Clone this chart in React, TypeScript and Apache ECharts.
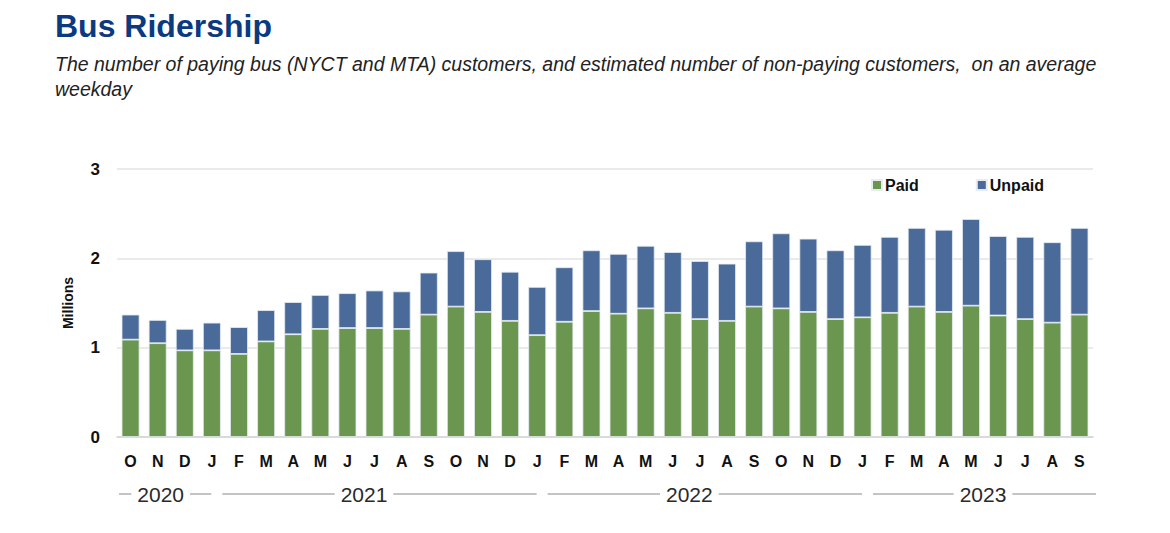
import React, { useEffect, useRef } from "react";
import * as echarts from "echarts";

const months = ["O","N","D","J","F","M","A","M","J","J","A","S","O","N","D","J","F","M","A","M","J","J","A","S","O","N","D","J","F","M","A","M","J","J","A","S"];
const years = ["2020", "2021", "2022", "2023"];
const monthsPerYear = [3, 12, 12, 9];
const paid = [1.09,1.05,0.97,0.97,0.93,1.07,1.15,1.21,1.22,1.22,1.21,1.37,1.46,1.40,1.30,1.14,1.29,1.41,1.38,1.44,1.39,1.32,1.30,1.46,1.44,1.40,1.32,1.34,1.39,1.46,1.40,1.47,1.36,1.32,1.28,1.37];
const unpaid = [0.28,0.26,0.24,0.31,0.30,0.35,0.36,0.38,0.39,0.42,0.42,0.47,0.62,0.59,0.55,0.54,0.61,0.68,0.67,0.70,0.68,0.65,0.64,0.73,0.84,0.82,0.77,0.81,0.85,0.88,0.92,0.97,0.89,0.92,0.90,0.97];
const yTicks = [0, 1, 2, 3];

const GREEN = "#6a9650";
const BLUE = "#4a6a99";
const FONT = "'Liberation Sans', Arial, Helvetica, sans-serif";

export default function App() {
  const ref = useRef<HTMLDivElement>(null);
  useEffect(() => {
    if (!ref.current) return;
    const chart = echarts.init(ref.current, undefined, { renderer: "svg" });
    const grid = { left: 117, right: 77, top: 169, bottom: 96 };
    chart.setOption({
      animation: false,
      textStyle: { fontFamily: FONT },
      title: [
        {
          text: "Bus Ridership",
          left: 55,
          top: 10,
          padding: 0,
          textStyle: { fontSize: 32, fontWeight: "bold", color: "#0b3a80", fontFamily: FONT },
        },
        {
          text: "The number of paying bus (NYCT and MTA) customers, and estimated number of non-paying customers,  on an average\nweekday",
          left: 55,
          top: 51,
          padding: 0,
          textStyle: { fontSize: 19.5, fontStyle: "italic", fontWeight: "normal", color: "#222", lineHeight: 25, fontFamily: FONT },
        },
      ],
      legend: {
        left: 866,
        top: 172,
        itemWidth: 10,
        itemHeight: 10,
        itemGap: 57,
        icon: "rect",
        textStyle: { fontSize: 16, fontWeight: "bold", color: "#111", padding: [0, 0, 0, -2] },
        data: ["Paid", "Unpaid"],
      },
      grid,
      xAxis: {
        type: "category",
        data: months,
        axisLine: { show: true, lineStyle: { color: "#d4d4d4", width: 1.5 } },
        axisTick: { show: false },
        axisLabel: { fontSize: 16, fontWeight: "bold", color: "#111", margin: 16, interval: 0 },
      },
      yAxis: {
        type: "value",
        min: yTicks[0],
        max: yTicks[yTicks.length - 1],
        interval: 1,
        name: "Millions",
        nameLocation: "middle",
        nameRotate: 90,
        nameGap: 42,
        nameTextStyle: { fontSize: 14, fontWeight: "bold", color: "#111" },
        axisLine: { show: false },
        axisTick: { show: false },
        axisLabel: { fontSize: 17, fontWeight: "bold", color: "#111", margin: 17 },
        splitLine: { lineStyle: { color: "#e3e3e3", width: 1.5 } },
      },
      series: [
        {
          name: "Paid",
          type: "bar",
          stack: "total",
          data: paid,
          barCategoryGap: "34%",
          itemStyle: { color: GREEN, borderColor: "#e6ecf2", borderWidth: 0.8 },
        },
        {
          name: "Unpaid",
          type: "bar",
          stack: "total",
          data: unpaid,
          barCategoryGap: "34%",
          itemStyle: { color: BLUE, borderColor: "#e6ecf2", borderWidth: 0.8 },
        },
      ],
    });

    // Year row under the month labels
    const p0 = chart.convertToPixel({ xAxisIndex: 0 }, 0) as number;
    const p1 = chart.convertToPixel({ xAxisIndex: 0 }, 1) as number;
    const cw = p1 - p0;
    const zeroY = chart.convertToPixel({ yAxisIndex: 0 }, 0) as number;
    const rowY = zeroY + 57;
    const rightEdge = 1170 - grid.right + 3;
    const graphics: any[] = [];
    let idx = 0;
    years.forEach((y, i) => {
      const startIdx = idx;
      const endIdx = idx + monthsPerYear[i] - 1;
      idx += monthsPerYear[i];
      const cs = chart.convertToPixel({ xAxisIndex: 0 }, startIdx) as number;
      const ce = chart.convertToPixel({ xAxisIndex: 0 }, endIdx) as number;
      const x0 = cs - cw / 2 + (i === 0 ? 2 : 24);
      const x1 = Math.min(ce + cw / 2 + 13, rightEdge);
      const mid = (cs + ce) / 2 + (i === years.length - 1 ? 12 : 3);
      graphics.push({
        type: "line",
        shape: { x1: x0, y1: rowY, x2: x1, y2: rowY },
        style: { stroke: "#b0b0b0", lineWidth: 1.5 },
        silent: true,
      });
      graphics.push({
        type: "text",
        x: mid,
        y: rowY,
        style: {
          text: y,
          fontSize: 21,
          fontFamily: FONT,
          fill: "#2a2a2a",
          align: "center",
          verticalAlign: "middle",
          backgroundColor: "#fff",
          padding: [0, 6, 0, 6],
        },
        silent: true,
      });
    });
    chart.setOption({ graphic: graphics });

    return () => chart.dispose();
  }, []);
  return (
    <div
      ref={ref}
      style={{ position: "absolute", left: 0, top: 0, width: 1170, height: 533, background: "#fff" }}
    />
  );
}
